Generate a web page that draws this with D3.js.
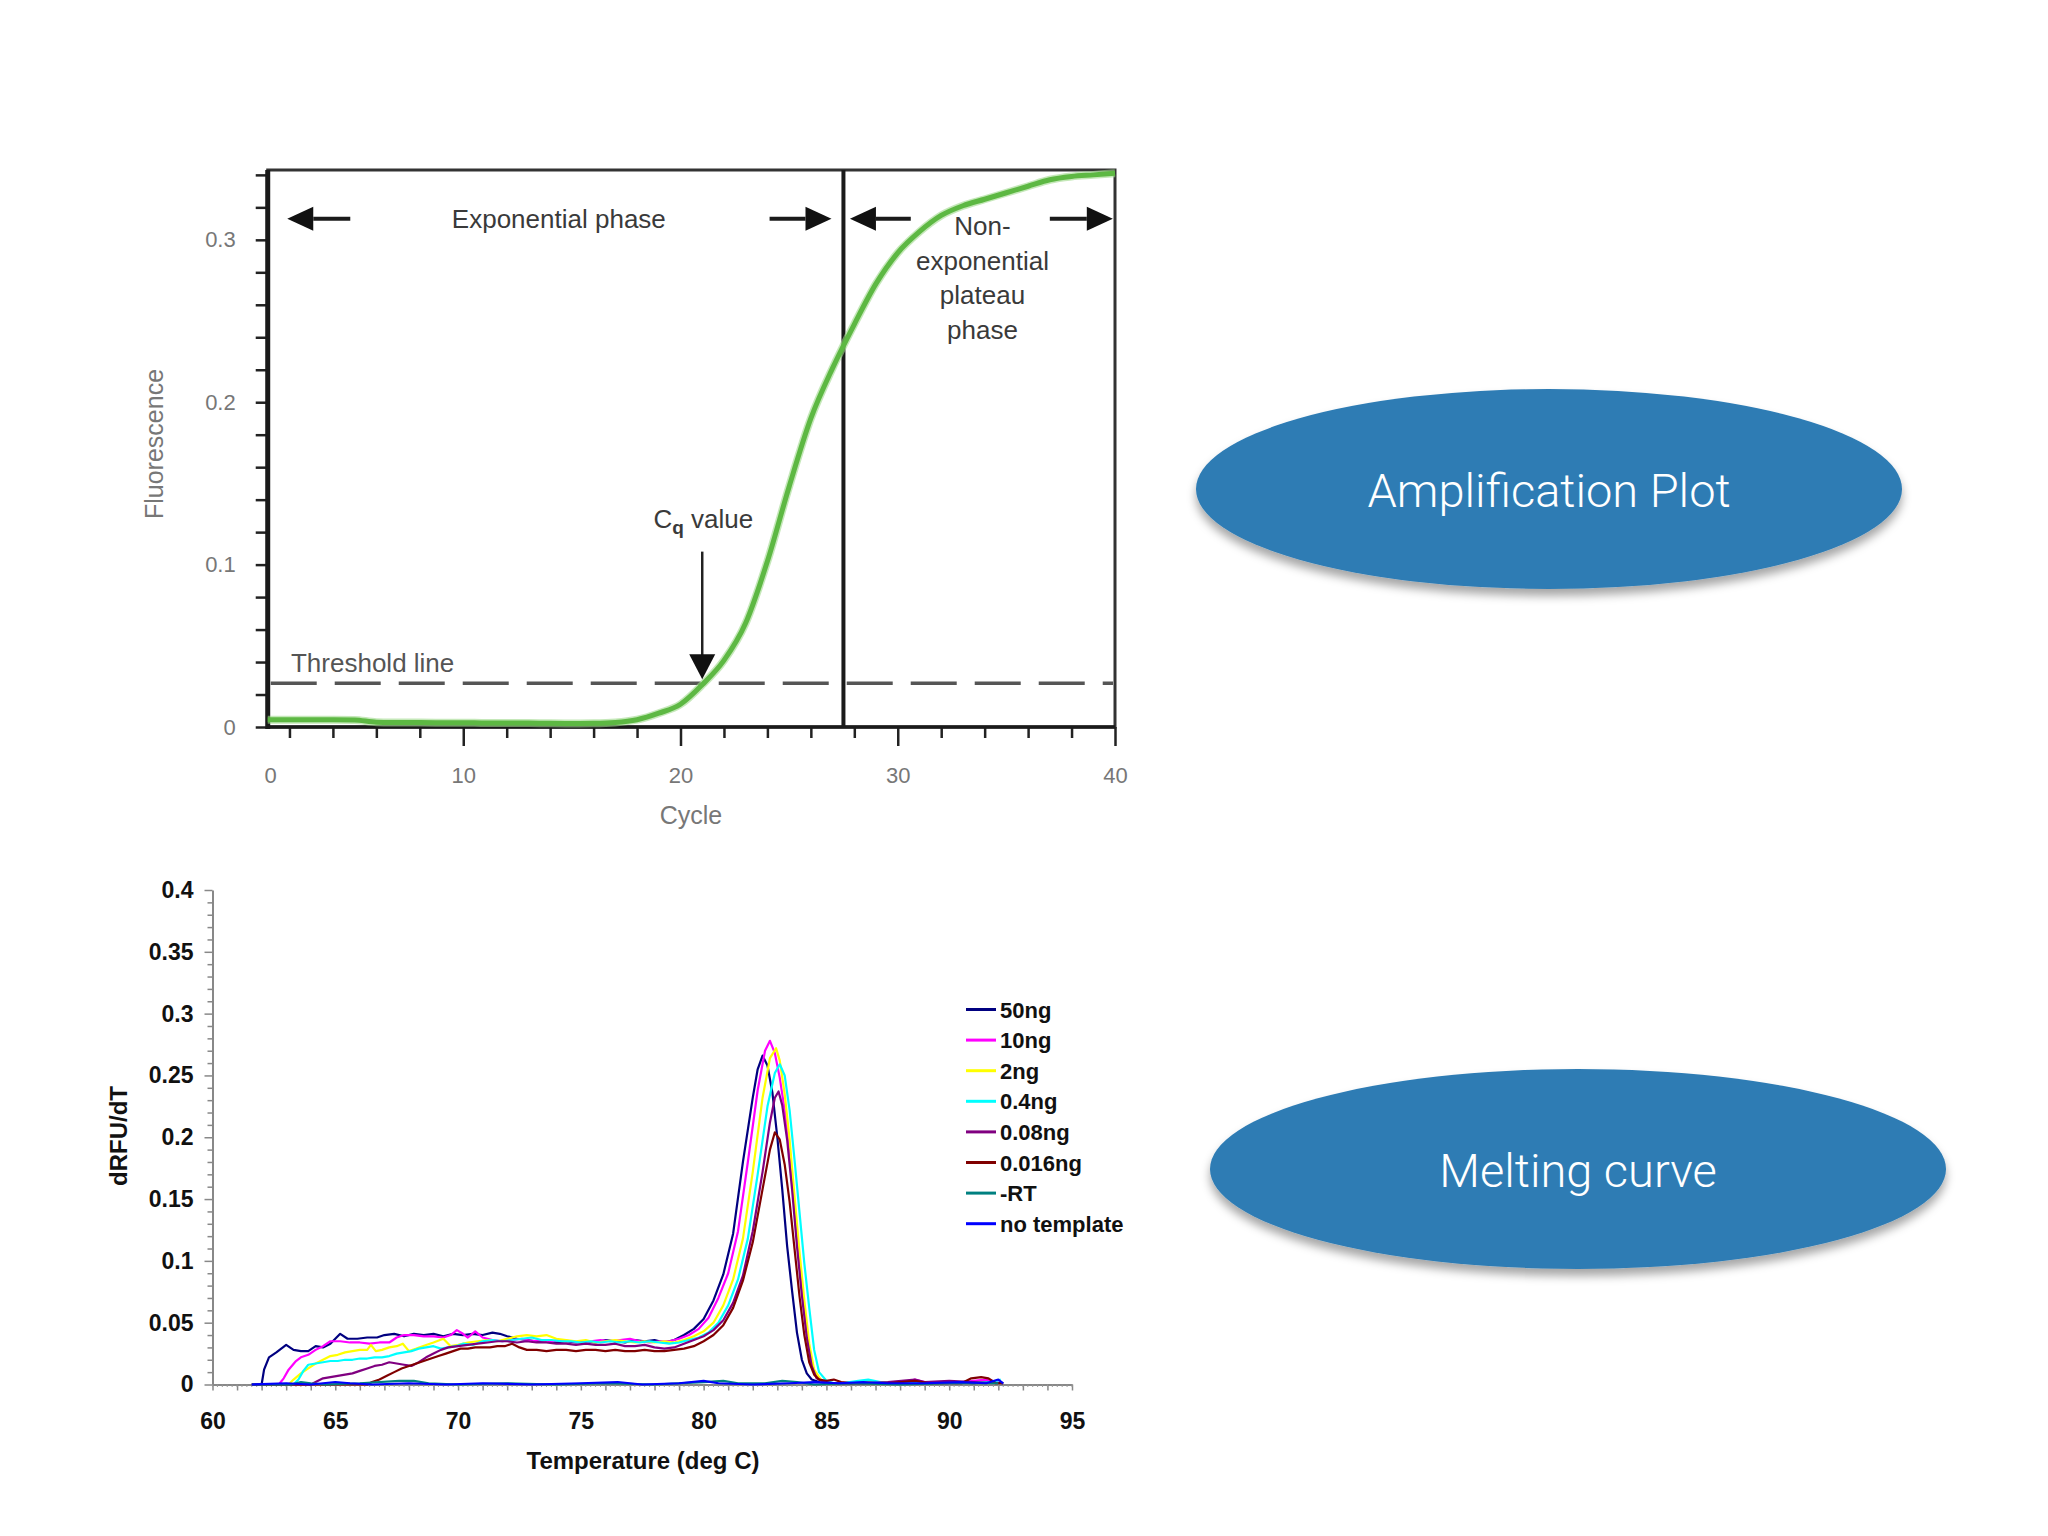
<!DOCTYPE html>
<html>
<head>
<meta charset="utf-8">
<script src="https://cdn.jsdelivr.net/npm/d3@7"></script>
<style>
  body { margin: 0; background: #fff; }
  svg { display: block; }
</style>
</head>
<body>
<div id="container"></div>
<script>
var width = 2048,
    height = 1536;

// amplification plot (cycle vs fluorescence)
var cycles = [1, 2, 3, 4, 5, 6, 7, 8, 9, 10, 11, 12, 13, 14, 15, 16, 17, 18, 19, 20,
              21, 22, 23, 24, 25, 26, 27, 28, 29, 30, 31, 32, 33, 34, 35, 36, 37, 38, 39, 40];
var fluorescence = [0.0045, 0.0045, 0.0045, 0.0045, 0.0043, 0.003, 0.0028, 0.0027, 0.0026, 0.0026,
                    0.0025, 0.0025, 0.0024, 0.0023, 0.0022, 0.0023, 0.0028, 0.0045, 0.0085, 0.014,
                    0.026, 0.041, 0.064, 0.102, 0.148, 0.19, 0.221, 0.248, 0.273, 0.292,
                    0.305, 0.315, 0.321, 0.325, 0.329, 0.333, 0.337, 0.339, 0.340, 0.341];
var threshold = 0.027;
var cqCycle = 21.0;
var plateauCycle = 27.5;
var plateauLines = ['Non-', 'exponential', 'plateau', 'phase'];
// [tail, tip] of the phase arrows, in cycles
var phaseArrows = [[4.8, 1.9], [24.1, 26.95], [30.6, 27.8], [37.0, 39.9]];

// melting curves: [temperature, dRFU/dT]
var melt50ng = [[61.6,0],[62.0,0],[62.1,0.012],[62.3,0.022],[62.6,0.026],[63.0,0.032],[63.3,0.028],[63.6,0.027],[63.9,0.027],[64.2,0.031],[64.5,0.030],[64.8,0.033],[65.0,0.037],[65.2,0.041],[65.5,0.037],[65.9,0.037],[66.3,0.038],[66.7,0.038],[67.0,0.040],[67.4,0.041],[67.8,0.039],[68.2,0.041],[68.6,0.040],[69.0,0.041],[69.4,0.039],[69.8,0.041],[70.2,0.040],[70.6,0.041],[71.0,0.040],[71.4,0.042],[71.7,0.041],[72.0,0.039],[72.4,0.037],[72.8,0.036],[73.2,0.035],[73.6,0.036],[74.0,0.034],[74.4,0.035],[74.8,0.034],[75.2,0.035],[75.6,0.034],[76.0,0.036],[76.4,0.035],[76.8,0.034],[77.2,0.036],[77.6,0.035],[78.0,0.036],[78.4,0.034],[78.8,0.036],[79.2,0.040],[79.6,0.045],[80.0,0.053],[80.4,0.068],[80.8,0.089],[81.2,0.122],[81.6,0.180],[82.0,0.232],[82.2,0.255],[82.4,0.266],[82.6,0.258],[82.8,0.236],[83.0,0.200],[83.2,0.158],[83.4,0.112],[83.6,0.076],[83.8,0.042],[84.0,0.020],[84.2,0.009],[84.4,0.004],[84.7,0.002],[85.0,0.001],[86.0,0.001],[86.6,0.003],[87.2,0.001],[88.0,0.001],[88.6,0.003],[89.2,0.001],[90.0,0.002],[91.0,0.001],[91.6,0.002],[92.2,0.001]];
var melt10ng = [[61.6,0],[62.7,0],[62.9,0.005],[63.1,0.012],[63.4,0.019],[63.6,0.022],[63.9,0.024],[64.2,0.028],[64.5,0.031],[64.8,0.035],[65.2,0.035],[65.6,0.034],[66.0,0.034],[66.4,0.033],[66.8,0.034],[67.2,0.034],[67.5,0.038],[67.8,0.040],[68.2,0.040],[68.6,0.039],[69.0,0.039],[69.4,0.038],[69.7,0.040],[69.95,0.044],[70.2,0.041],[70.4,0.038],[70.7,0.043],[71.0,0.038],[71.4,0.036],[71.8,0.035],[72.2,0.036],[72.6,0.037],[73.0,0.035],[73.4,0.036],[73.8,0.035],[74.2,0.036],[74.6,0.035],[75.0,0.034],[75.4,0.035],[75.8,0.036],[76.2,0.035],[76.6,0.036],[77.0,0.037],[77.4,0.035],[77.8,0.034],[78.2,0.035],[78.6,0.035],[79.0,0.037],[79.4,0.040],[79.8,0.045],[80.2,0.054],[80.6,0.070],[81.0,0.090],[81.4,0.124],[81.8,0.180],[82.2,0.238],[82.5,0.270],[82.7,0.278],[82.9,0.268],[83.1,0.248],[83.3,0.222],[83.5,0.188],[83.7,0.143],[83.9,0.100],[84.1,0.062],[84.3,0.028],[84.5,0.010],[84.8,0.003],[85.1,0.001],[86.4,0.002],[87.4,0.001],[88.3,0.002],[88.6,0.004],[89.0,0.002],[90.0,0.001],[91.0,0.003],[91.5,0.004],[92.0,0.002]];
var melt2ng = [[61.6,0],[63.1,0],[63.3,0.004],[63.6,0.009],[63.9,0.013],[64.2,0.017],[64.5,0.020],[64.8,0.023],[65.1,0.024],[65.4,0.026],[65.7,0.027],[66.0,0.028],[66.3,0.028],[66.45,0.032],[66.65,0.027],[66.9,0.028],[67.2,0.030],[67.5,0.031],[67.75,0.033],[68.0,0.027],[68.3,0.029],[68.7,0.032],[69.0,0.034],[69.4,0.037],[69.7,0.031],[70.0,0.032],[70.4,0.034],[70.8,0.035],[71.2,0.036],[71.6,0.035],[72.0,0.037],[72.4,0.039],[72.8,0.040],[73.2,0.039],[73.6,0.040],[74.0,0.037],[74.4,0.036],[74.8,0.035],[75.2,0.036],[75.6,0.034],[76.0,0.035],[76.4,0.036],[76.8,0.035],[77.2,0.034],[77.6,0.035],[78.0,0.034],[78.4,0.035],[78.8,0.034],[79.2,0.036],[79.6,0.039],[80.0,0.043],[80.4,0.050],[80.8,0.064],[81.2,0.085],[81.6,0.118],[82.0,0.172],[82.4,0.232],[82.7,0.264],[82.95,0.272],[83.1,0.262],[83.3,0.235],[83.5,0.198],[83.7,0.152],[83.9,0.108],[84.1,0.068],[84.3,0.033],[84.5,0.012],[84.8,0.003],[85.1,0.001],[86.6,0.002],[87.6,0.002],[88.4,0.002],[89.2,0.001],[90.2,0.002],[91.2,0.002],[92.0,0.001]];
var melt04ng = [[61.6,0],[63.3,0],[63.5,0.004],[63.7,0.011],[63.9,0.016],[64.2,0.017],[64.5,0.018],[64.8,0.019],[65.1,0.019],[65.4,0.020],[65.7,0.020],[66.0,0.021],[66.3,0.021],[66.6,0.022],[66.9,0.022],[67.2,0.023],[67.5,0.025],[67.8,0.026],[68.1,0.027],[68.4,0.029],[68.7,0.030],[69.0,0.031],[69.3,0.029],[69.6,0.030],[69.9,0.031],[70.2,0.033],[70.6,0.032],[71.0,0.035],[71.4,0.036],[71.8,0.035],[72.2,0.036],[72.6,0.037],[73.0,0.038],[73.4,0.036],[73.8,0.036],[74.2,0.035],[74.6,0.035],[75.0,0.034],[75.4,0.035],[75.8,0.034],[76.2,0.035],[76.6,0.034],[77.0,0.035],[77.4,0.034],[77.8,0.035],[78.2,0.034],[78.6,0.033],[79.0,0.034],[79.4,0.036],[79.8,0.038],[80.2,0.042],[80.6,0.050],[81.0,0.064],[81.4,0.085],[81.8,0.118],[82.2,0.170],[82.6,0.225],[82.9,0.252],[83.1,0.259],[83.3,0.250],[83.5,0.222],[83.7,0.182],[83.9,0.140],[84.1,0.098],[84.3,0.062],[84.5,0.028],[84.7,0.010],[85.0,0.003],[85.3,0.001],[85.6,0.001],[86.3,0.003],[86.7,0.004],[87.2,0.002],[88.0,0.001],[89.0,0.002],[90.0,0.001],[91.0,0.002],[91.8,0.002],[92.1,0.004]];
var melt008ng = [[61.6,0],[64.0,0],[64.2,0.002],[64.5,0.005],[64.8,0.006],[65.1,0.007],[65.4,0.008],[65.7,0.009],[66.0,0.011],[66.3,0.013],[66.6,0.015],[66.9,0.016],[67.2,0.018],[67.5,0.017],[67.8,0.016],[68.1,0.015],[68.4,0.018],[68.7,0.022],[69.0,0.025],[69.3,0.028],[69.6,0.030],[70.0,0.031],[70.4,0.032],[70.8,0.033],[71.2,0.034],[71.6,0.035],[72.0,0.035],[72.4,0.034],[72.8,0.035],[73.2,0.034],[73.6,0.034],[74.0,0.033],[74.4,0.033],[74.8,0.032],[75.2,0.033],[75.6,0.032],[76.0,0.032],[76.4,0.033],[76.8,0.031],[77.2,0.031],[77.6,0.032],[78.0,0.030],[78.4,0.029],[78.8,0.030],[79.2,0.033],[79.6,0.036],[80.0,0.039],[80.4,0.044],[80.8,0.052],[81.2,0.066],[81.6,0.088],[82.0,0.124],[82.4,0.172],[82.7,0.212],[82.9,0.232],[83.05,0.237],[83.2,0.226],[83.4,0.198],[83.6,0.158],[83.8,0.112],[84.0,0.072],[84.2,0.038],[84.4,0.015],[84.6,0.005],[84.9,0.002],[85.2,0.001],[86.5,0.001],[87.5,0.002],[88.6,0.004],[89.0,0.002],[90.0,0.003],[91.0,0.002],[92.0,0.001]];
var melt0016ng = [[61.6,0],[66.3,0],[66.5,0.002],[66.8,0.004],[67.1,0.007],[67.4,0.010],[67.7,0.013],[68.0,0.015],[68.3,0.017],[68.6,0.019],[68.9,0.021],[69.2,0.023],[69.5,0.025],[69.8,0.027],[70.1,0.029],[70.4,0.029],[70.7,0.030],[71.0,0.030],[71.3,0.030],[71.6,0.031],[71.9,0.031],[72.2,0.033],[72.5,0.030],[72.8,0.028],[73.2,0.028],[73.6,0.027],[74.0,0.028],[74.4,0.028],[74.8,0.027],[75.2,0.028],[75.6,0.028],[76.0,0.027],[76.4,0.028],[76.8,0.027],[77.2,0.027],[77.6,0.028],[78.0,0.027],[78.4,0.027],[78.8,0.028],[79.2,0.029],[79.6,0.031],[80.0,0.035],[80.4,0.040],[80.8,0.048],[81.2,0.062],[81.6,0.084],[82.0,0.115],[82.4,0.158],[82.7,0.190],[82.9,0.204],[83.1,0.198],[83.3,0.178],[83.5,0.148],[83.7,0.110],[83.9,0.072],[84.1,0.040],[84.3,0.018],[84.5,0.008],[84.7,0.004],[85.0,0.003],[85.3,0.004],[85.6,0.002],[86.0,0.001],[87.5,0.001],[88.6,0.003],[89.2,0.001],[90.5,0.001],[90.9,0.005],[91.3,0.006],[91.6,0.005],[91.9,0.001],[92.2,0.001]];
var meltMinusRT = [[61.6,0],[63.2,0],[63.6,0.002],[64.0,0.001],[64.6,0],[66.0,0.001],[67.6,0.003],[68.2,0.003],[68.8,0.001],[70.0,0],[72.0,0.001],[74.0,0],[76.0,0.001],[78.0,0],[80.0,0.002],[80.8,0.003],[81.4,0.001],[82.5,0.001],[83.2,0.003],[83.8,0.002],[84.5,0],[86.0,0.001],[88.0,0],[90.0,0.001],[92.0,0.001]];
var meltNoTemplate = [[61.6,0],[63.0,0.001],[64.0,0],[65.0,0.002],[65.6,0.001],[66.5,0],[68.0,0.001],[69.5,0],[71.0,0.001],[73.0,0],[75.0,0.001],[76.5,0.002],[77.5,0],[79.0,0.001],[80.0,0.003],[80.6,0.001],[82.0,0],[83.5,0.001],[84.5,0.002],[85.5,0.001],[86.5,0.002],[87.5,0.001],[89.0,0.001],[90.5,0.002],[91.5,0.001],[92.0,0.004],[92.2,0.001]];

var meltSeries = [melt50ng, melt10ng, melt2ng, melt04ng, melt008ng, melt0016ng, meltMinusRT, meltNoTemplate];
var meltNames = ['50ng', '10ng', '2ng', '0.4ng', '0.08ng', '0.016ng', '-RT', 'no template'];
var meltColors = ['#000080', '#ff00ff', '#ffff00', '#00ffff', '#800080', '#800000', '#008080', '#0000ff'];
var meltXTicks = [60, 65, 70, 75, 80, 85, 90, 95];

var bubbleLabels = ['Amplification Plot', 'Melting curve'];

var svg = d3.select('#container')
    .append('svg')
    .attr('width', width)
    .attr('height', height);

svg.append('rect')
    .attr('width', width)
    .attr('height', height)
    .attr('fill', '#ffffff');

var defs = svg.append('defs');
var shadow = defs.append('filter')
    .attr('id', 'shadow')
    .attr('x', '-10%').attr('y', '-20%')
    .attr('width', '120%').attr('height', '150%');
shadow.append('feDropShadow')
    .attr('dx', 0).attr('dy', 7)
    .attr('stdDeviation', 5)
    .attr('flood-color', '#000')
    .attr('flood-opacity', 0.35);

var sans = '"Liberation Sans", Arial, sans-serif';

// ---------- amplification plot ----------
var x = d3.scaleLinear().domain([0, 40]).range([246, 1115]);
var y = d3.scaleLinear().domain([0, 0.343]).range([727, 170]);
var amp = svg.append('g');

// frame
amp.append('rect')
    .attr('x', x(1))
    .attr('y', y(0.343))
    .attr('width', x(40) - x(1))
    .attr('height', y(0) - y(0.343))
    .attr('fill', 'none')
    .attr('stroke', '#333')
    .attr('stroke-width', 3);

var yAxisA = d3.axisLeft(y)
    .tickValues(d3.range(0, 0.341, 0.02))
    .tickSize(12)
    .tickSizeOuter(0)
    .tickPadding(20)
    .tickFormat(function(d) {
        var r = Math.round(d * 100);
        if (r % 10 !== 0) return '';
        return r === 0 ? '0' : String(r / 100);
    });
var gy = amp.append('g')
    .attr('transform', 'translate(' + x(1) + ',0)')
    .call(yAxisA);
gy.select('.domain').remove();
gy.selectAll('.tick line').attr('stroke', '#222').attr('stroke-width', 2.5);
gy.selectAll('.tick text')
    .attr('fill', '#777')
    .style('font-family', sans)
    .style('font-size', '22px');

var xAxisA = d3.axisBottom(x)
    .tickValues(d3.range(2, 41, 2))
    .tickSize(11)
    .tickSizeOuter(0)
    .tickFormat(function(d) { return d % 10 === 0 ? d : ''; });
var gx = amp.append('g')
    .attr('transform', 'translate(0,' + y(0) + ')')
    .call(xAxisA);
gx.select('.domain').remove();
gx.selectAll('.tick line')
    .attr('stroke', '#222')
    .attr('stroke-width', 2.5)
    .attr('y2', function(d) { return d % 10 === 0 ? 19 : 11; });
gx.selectAll('.tick text')
    .attr('y', 56)
    .attr('dy', 0)
    .attr('fill', '#777')
    .style('font-family', sans)
    .style('font-size', '22px');
// the "0" label sits at the start of the axis
amp.append('text')
    .attr('x', x(1) + 3)
    .attr('y', y(0) + 56)
    .attr('text-anchor', 'middle')
    .attr('fill', '#777')
    .style('font-family', sans)
    .style('font-size', '22px')
    .text('0');

// heavy axis lines
amp.append('line')
    .attr('x1', x(1)).attr('x2', x(1))
    .attr('y1', y(0.343)).attr('y2', y(0) + 2)
    .attr('stroke', '#1a1a1a').attr('stroke-width', 5);
amp.append('line')
    .attr('x1', x(1)).attr('x2', x(40))
    .attr('y1', y(0)).attr('y2', y(0))
    .attr('stroke', '#1a1a1a').attr('stroke-width', 3.5);

// threshold
amp.append('line')
    .attr('x1', x(1) + 3).attr('x2', x(40) - 2)
    .attr('y1', y(threshold)).attr('y2', y(threshold))
    .attr('stroke', '#555')
    .attr('stroke-width', 3.5)
    .attr('stroke-dasharray', '46,18');

// plateau divider
amp.append('line')
    .attr('x1', x(plateauCycle)).attr('x2', x(plateauCycle))
    .attr('y1', y(0.343)).attr('y2', y(0))
    .attr('stroke', '#1a1a1a').attr('stroke-width', 4);

var ampData = cycles.map(function(c, i) { return { c: c, v: fluorescence[i] }; });
var ampLine = d3.line()
    .x(function(d) { return x(d.c); })
    .y(function(d) { return y(d.v); })
    .curve(d3.curveMonotoneX);
amp.append('path')
    .attr('d', ampLine(ampData))
    .attr('fill', 'none')
    .attr('stroke', '#9fd98a')
    .attr('stroke-width', 8)
    .attr('stroke-opacity', 0.6);
amp.append('path')
    .attr('d', ampLine(ampData))
    .attr('fill', 'none')
    .attr('stroke', '#5db843')
    .attr('stroke-width', 5);

// phase arrows
var arrowY = y(0.313);
phaseArrows.forEach(function(a) {
    var x0 = x(a[0]), x1 = x(a[1]), dir = x1 > x0 ? 1 : -1, head = 26;
    amp.append('line')
        .attr('x1', x0).attr('x2', x1 - dir * head)
        .attr('y1', arrowY).attr('y2', arrowY)
        .attr('stroke', '#1a1a1a').attr('stroke-width', 4);
    amp.append('path')
        .attr('d', 'M' + x1 + ',' + arrowY +
                   'L' + (x1 - dir * head) + ',' + (arrowY - 12) +
                   'L' + (x1 - dir * head) + ',' + (arrowY + 12) + 'Z')
        .attr('fill', '#111');
});

// Cq arrow
var cqX = x(cqCycle), cqTop = y(0.108), cqTip = y(threshold) - 4;
amp.append('line')
    .attr('x1', cqX).attr('x2', cqX)
    .attr('y1', cqTop).attr('y2', cqTip - 22)
    .attr('stroke', '#222').attr('stroke-width', 2.5);
amp.append('path')
    .attr('d', 'M' + cqX + ',' + cqTip + 'L' + (cqX - 13) + ',' + (cqTip - 25) + 'L' + (cqX + 13) + ',' + (cqTip - 25) + 'Z')
    .attr('fill', '#111');

var annot = amp.append('g')
    .attr('fill', '#3a3a3a')
    .style('font-family', sans)
    .style('font-size', '26px');
annot.append('text')
    .attr('x', x(14.4)).attr('y', 228)
    .attr('text-anchor', 'middle')
    .text('Exponential phase');
annot.selectAll('.plateau')
    .data(plateauLines)
    .enter().append('text')
    .attr('class', 'plateau')
    .attr('x', x(33.9))
    .attr('y', function(d, i) { return 235 + i * 34.5; })
    .attr('text-anchor', 'middle')
    .text(function(d) { return d; });
var cqText = annot.append('text')
    .attr('x', x(21.05)).attr('y', 528)
    .attr('text-anchor', 'middle');
cqText.append('tspan').text('C');
cqText.append('tspan').attr('dy', 6).style('font-size', '19px').style('font-weight', 'bold').text('q');
cqText.append('tspan').attr('dy', -6).text(' value');
annot.append('text')
    .attr('x', x(2.07)).attr('y', 672)
    .attr('fill', '#555')
    .text('Threshold line');

amp.append('text')
    .attr('transform', 'translate(163,444) rotate(-90)')
    .attr('text-anchor', 'middle')
    .attr('fill', '#777')
    .style('font-family', sans)
    .style('font-size', '25px')
    .text('Fluorescence');
amp.append('text')
    .attr('x', 691).attr('y', 824)
    .attr('text-anchor', 'middle')
    .attr('fill', '#777')
    .style('font-family', sans)
    .style('font-size', '25px')
    .text('Cycle');

// ---------- melting curve ----------
var xM = d3.scaleLinear().domain([60, 95]).range([212.5, 1072]);
var yM = d3.scaleLinear().domain([0, 0.4]).range([1384.5, 890]);
var melt = svg.append('g');

var yAxisM = d3.axisLeft(yM)
    .tickValues(d3.range(0, 0.4001, 0.01))
    .tickSize(4)
    .tickSizeOuter(0)
    .tickFormat(function(d) {
        var r = Math.round(d * 100);
        if (r % 5 !== 0) return '';
        return r === 0 ? '0' : String(r / 100);
    });
var gmy = melt.append('g')
    .attr('transform', 'translate(' + xM(60) + ',0)')
    .call(yAxisM);
gmy.select('.domain').attr('stroke', '#888').attr('stroke-width', 2);
gmy.selectAll('.tick line')
    .attr('stroke', '#888')
    .attr('stroke-width', 1.5)
    .attr('x2', function(d) { return Math.round(d * 100) % 5 === 0 ? -8 : -5; });
gmy.selectAll('.tick text')
    .attr('x', -19)
    .attr('fill', '#111')
    .style('font-family', sans)
    .style('font-size', '23px')
    .style('font-weight', 'bold');

var xAxisM = d3.axisBottom(xM)
    .tickValues(d3.range(60, 95.5, 1))
    .tickSize(6)
    .tickSizeOuter(0)
    .tickFormat(function(d) { return meltXTicks.indexOf(d) >= 0 ? d : ''; });
var gmx = melt.append('g')
    .attr('transform', 'translate(0,' + yM(0) + ')')
    .call(xAxisM);
gmx.select('.domain').attr('stroke', '#888').attr('stroke-width', 2);
gmx.selectAll('.tick line').attr('stroke', '#888').attr('stroke-width', 1.5);
gmx.selectAll('.tick text')
    .attr('y', 44)
    .attr('dy', 0)
    .attr('fill', '#111')
    .style('font-family', sans)
    .style('font-size', '23px')
    .style('font-weight', 'bold');
// fine ticks along the temperature axis
melt.append('g')
    .selectAll('line')
    .data(d3.range(60, 95.01, 0.2))
    .enter().append('line')
    .attr('x1', function(d) { return xM(d); })
    .attr('x2', function(d) { return xM(d); })
    .attr('y1', yM(0))
    .attr('y2', yM(0) + 2.5)
    .attr('stroke', '#999')
    .attr('stroke-width', 1);

var meltLine = d3.line()
    .x(function(d) { return xM(d[0]); })
    .y(function(d) { return yM(d[1]); });
melt.append('g')
    .selectAll('path')
    .data(meltSeries)
    .enter().append('path')
    .attr('d', meltLine)
    .attr('fill', 'none')
    .attr('stroke', function(d, i) { return meltColors[i]; })
    .attr('stroke-width', 2.2)
    .attr('stroke-linejoin', 'round');

melt.append('text')
    .attr('transform', 'translate(127,1136) rotate(-90)')
    .attr('text-anchor', 'middle')
    .attr('fill', '#111')
    .style('font-family', sans)
    .style('font-size', '24px')
    .style('font-weight', 'bold')
    .text('dRFU/dT');
melt.append('text')
    .attr('x', 643).attr('y', 1469)
    .attr('text-anchor', 'middle')
    .attr('fill', '#111')
    .style('font-family', sans)
    .style('font-size', '24px')
    .style('font-weight', 'bold')
    .text('Temperature (deg C)');

var legend = melt.append('g')
    .attr('transform', 'translate(966,1009.5)');
var legendRow = legend.selectAll('g')
    .data(meltNames)
    .enter().append('g')
    .attr('transform', function(d, i) { return 'translate(0,' + (i * 30.6) + ')'; });
legendRow.append('line')
    .attr('x1', 0).attr('x2', 30)
    .attr('stroke', function(d, i) { return meltColors[i]; })
    .attr('stroke-width', 3);
legendRow.append('text')
    .attr('x', 34)
    .attr('y', 8)
    .attr('fill', '#111')
    .style('font-family', sans)
    .style('font-size', '22px')
    .style('font-weight', 'bold')
    .text(function(d) { return d; });

// ---------- blue bubbles ----------
var bubbles = [
    { label: bubbleLabels[0], cx: 1549, cy: 489, rx: 353, ry: 100 },
    { label: bubbleLabels[1], cx: 1578, cy: 1169, rx: 368, ry: 100 }
];
var bubble = svg.selectAll('.bubble')
    .data(bubbles)
    .enter().append('g')
    .attr('class', 'bubble');
bubble.append('ellipse')
    .attr('cx', function(d) { return d.cx; })
    .attr('cy', function(d) { return d.cy; })
    .attr('rx', function(d) { return d.rx; })
    .attr('ry', function(d) { return d.ry; })
    .attr('fill', '#2e7cb4')
    .attr('filter', 'url(#shadow)');
bubble.append('text')
    .attr('x', function(d) { return d.cx; })
    .attr('y', function(d) { return d.cy + 18; })
    .attr('text-anchor', 'middle')
    .attr('fill', '#ffffff')
    .style('font-family', 'Roboto, "Liberation Sans", sans-serif')
    .style('font-weight', 300)
    .style('font-size', '47px')
    .text(function(d) { return d.label; });
</script>
</body>
</html>
